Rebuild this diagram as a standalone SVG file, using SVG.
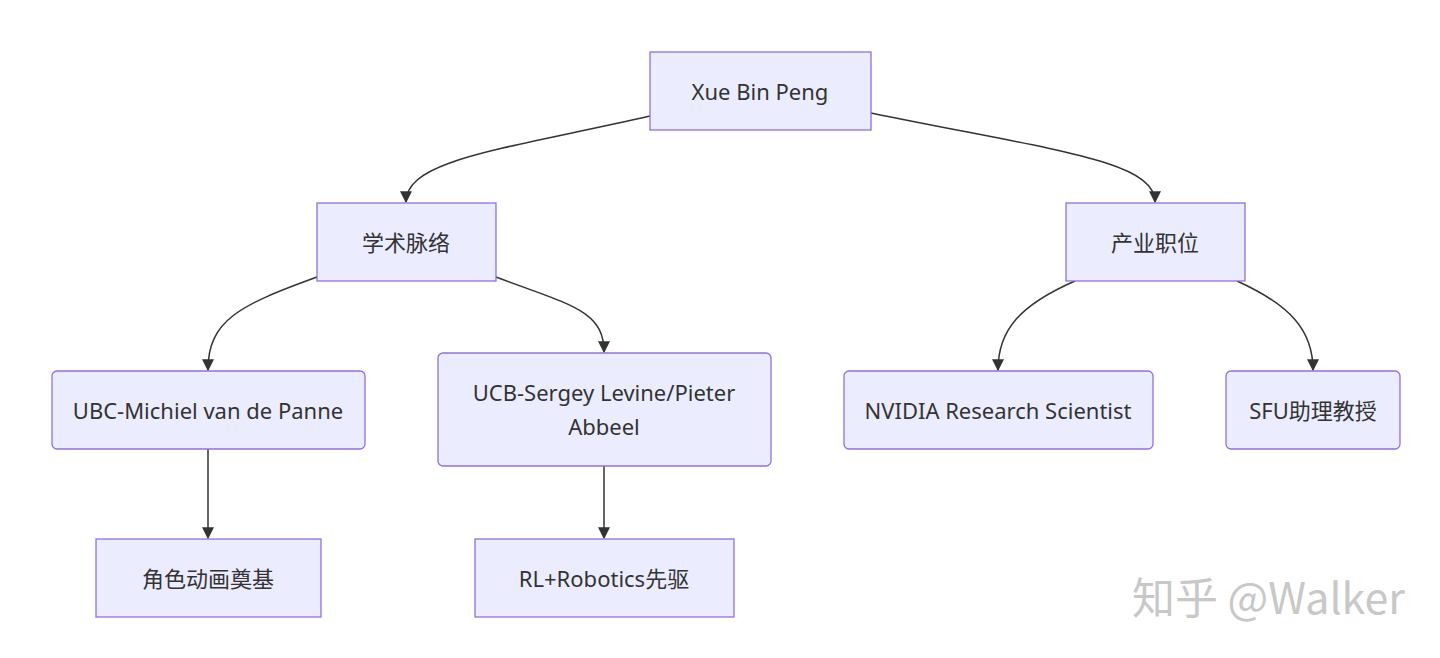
<svg xmlns="http://www.w3.org/2000/svg" width="1440" height="658" viewBox="0 0 1440 658">
<style>
.n rect{fill:#ECECFF;stroke:#9370DB;stroke-width:1.3}
.n text{font-family:"Noto Sans","Noto Sans CJK SC",sans-serif;font-size:22px;fill:#333;text-anchor:middle;dominant-baseline:central}
.e path{fill:none;stroke:#333;stroke-width:1.5}
</style>
<defs><marker id="a" viewBox="0 0 10 10" refX="9" refY="5" markerWidth="12" markerHeight="12" markerUnits="userSpaceOnUse" orient="auto"><path d="M0,0L10,5L0,10z" fill="#333"/></marker></defs>
<rect width="1440" height="658" fill="#fff"/>
<g class="e">
<path d="M650,116 C500,150 406,160 406,202" marker-end="url(#a)"/>
<path d="M871,113 C1050,150 1155,160 1155,202" marker-end="url(#a)"/>
<path d="M317,277 C240,305 208,320 208,370" marker-end="url(#a)"/>
<path d="M496,277 C570,305 604,310 604,352" marker-end="url(#a)"/>
<path d="M1075,281 C1020,305 998,330 998,370" marker-end="url(#a)"/>
<path d="M1237,281 C1290,305 1313,330 1313,370" marker-end="url(#a)"/>
<path d="M208,449 L208,538" marker-end="url(#a)"/>
<path d="M604,466 L604,538" marker-end="url(#a)"/>
</g>
<g id="peng" class="n"><rect x="650" y="52" width="221" height="78"/><text x="760" y="91">Xue Bin Peng</text></g>
<g id="acad" class="n"><rect x="317" y="203" width="179" height="78"/><text x="406" y="242">学术脉络</text></g>
<g id="ind" class="n"><rect x="1066" y="203" width="179" height="78"/><text x="1155" y="242">产业职位</text></g>
<g id="ubc" class="n"><rect x="52" y="371" width="313" height="78" rx="5"/><text x="208" y="410">UBC-Michiel van de Panne</text></g>
<g id="ucb" class="n"><rect x="438" y="353" width="333" height="113" rx="5"/><text x="604" y="392">UCB-Sergey Levine/Pieter</text><text x="604" y="426">Abbeel</text></g>
<g id="nv" class="n"><rect x="844" y="371" width="309" height="78" rx="5"/><text x="998" y="410">NVIDIA Research Scientist</text></g>
<g id="sfu" class="n"><rect x="1226" y="371" width="174" height="78" rx="5"/><text x="1313" y="410">SFU助理教授</text></g>
<g id="anim" class="n"><rect x="96" y="539" width="225" height="78"/><text x="208" y="578">角色动画奠基</text></g>
<g id="rl" class="n"><rect x="475" y="539" width="259" height="78"/><text x="604" y="578">RL+Robotics先驱</text></g>
<text x="1405" y="614" text-anchor="end" font-family="Noto Sans CJK SC,sans-serif" font-size="43" fill="#bbb" opacity="0.8">知乎 @Walker</text>
</svg>
